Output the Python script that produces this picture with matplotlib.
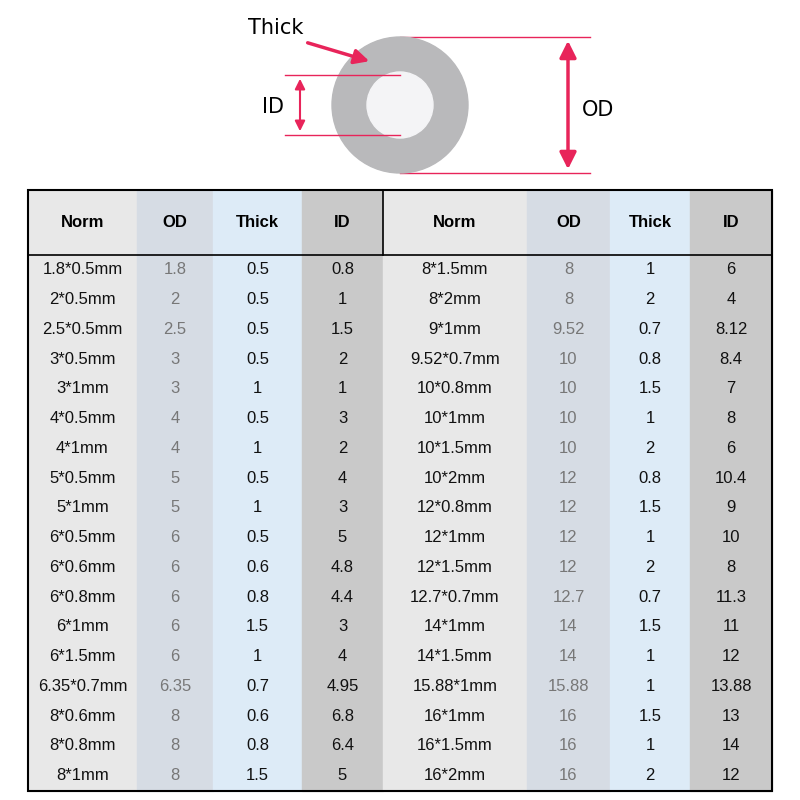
import matplotlib.pyplot as plt
from matplotlib.patches import Rectangle, Circle

# table data
norm_l = ["1.8*0.5mm", "2*0.5mm", "2.5*0.5mm", "3*0.5mm", "3*1mm", "4*0.5mm", "4*1mm",
          "5*0.5mm", "5*1mm", "6*0.5mm", "6*0.6mm", "6*0.8mm", "6*1mm", "6*1.5mm",
          "6.35*0.7mm", "8*0.6mm", "8*0.8mm", "8*1mm"]
od_l = ["1.8", "2", "2.5", "3", "3", "4", "4", "5", "5", "6", "6", "6", "6", "6",
        "6.35", "8", "8", "8"]
thick_l = ["0.5", "0.5", "0.5", "0.5", "1", "0.5", "1", "0.5", "1", "0.5", "0.6", "0.8",
           "1.5", "1", "0.7", "0.6", "0.8", "1.5"]
id_l = ["0.8", "1", "1.5", "2", "1", "3", "2", "4", "3", "5", "4.8", "4.4", "3", "4",
        "4.95", "6.8", "6.4", "5"]

norm_r = ["8*1.5mm", "8*2mm", "9*1mm", "9.52*0.7mm", "10*0.8mm", "10*1mm", "10*1.5mm",
          "10*2mm", "12*0.8mm", "12*1mm", "12*1.5mm", "12.7*0.7mm", "14*1mm", "14*1.5mm",
          "15.88*1mm", "16*1mm", "16*1.5mm", "16*2mm"]
od_r = ["8", "8", "9.52", "10", "10", "10", "10", "12", "12", "12", "12", "12.7", "14",
        "14", "15.88", "16", "16", "16"]
thick_r = ["1", "2", "0.7", "0.8", "1.5", "1", "2", "0.8", "1.5", "1", "2", "0.7", "1.5",
           "1", "1", "1.5", "1", "2"]
id_r = ["6", "4", "8.12", "8.4", "7", "8", "6", "10.4", "9", "10", "8", "11.3", "11",
        "12", "13.88", "13", "14", "12"]

headers = ["Norm", "OD", "Thick", "ID"]
col_colors = ["#e8e8e8", "#d6dce4", "#ddebf7", "#c9c9c9"]
text_colors = ["#111111", "#777777", "#111111", "#111111"]
pink = "#e8245a"

fig = plt.figure(figsize=(8, 8), dpi=100)
ax = fig.add_axes([0, 0, 1, 1])
ax.set_xlim(0, 800)
ax.set_ylim(800, 0)
ax.axis("off")

# washer diagram
ax.add_patch(Circle((400, 105), 68, color="#b9b9bb", zorder=2))
ax.add_patch(Circle((400, 105), 33, color="#f4f4f6", zorder=3))
for y in (37, 173):
    ax.plot([400, 590], [y, y], color=pink, lw=1, zorder=1)
for y in (75, 135):
    ax.plot([285, 400], [y, y], color=pink, lw=1, zorder=4)
ax.annotate("", xy=(568, 38), xytext=(568, 172),
            arrowprops=dict(arrowstyle="<|-|>", color=pink, lw=2.5, mutation_scale=25))
ax.annotate("", xy=(300, 76), xytext=(300, 134),
            arrowprops=dict(arrowstyle="<|-|>", color=pink, lw=1.5, mutation_scale=15))
ax.annotate("", xy=(372, 62), xytext=(305, 42),
            arrowprops=dict(arrowstyle="-|>", color=pink, lw=2.5, mutation_scale=22))
ax.text(276, 28, "Thick", fontsize=15, ha="center", va="center")
ax.text(273, 107, "ID", fontsize=15, ha="center", va="center")
ax.text(598, 110, "OD", fontsize=15, ha="center", va="center")

# table
top, head_h, row_h = 190, 65, 29.75
lefts_l = [28, 137, 213, 302, 383]
lefts_r = [383, 527, 610, 690, 772]
body_h = row_h * len(norm_l)

def draw_half(edges, cols):
    for j in range(4):
        x0, x1 = edges[j], edges[j + 1]
        ax.add_patch(Rectangle((x0, top), x1 - x0, head_h + body_h,
                               color=col_colors[j], zorder=0))
        ax.text((x0 + x1) / 2, top + head_h / 2, headers[j], fontsize=12,
                fontweight="bold", ha="center", va="center", family="Liberation Sans")
        for i, val in enumerate(cols[j]):
            ax.text((x0 + x1) / 2, top + head_h + row_h * (i + 0.5), val,
                    fontsize=12, ha="center", va="center", color=text_colors[j],
                    family="Liberation Sans")

draw_half(lefts_l, [norm_l, od_l, thick_l, id_l])
draw_half(lefts_r, [norm_r, od_r, thick_r, id_r])

ax.add_patch(Rectangle((28, top), 744, head_h + body_h, fill=False,
                       edgecolor="black", lw=1.5, zorder=5))
ax.plot([28, 772], [top + head_h, top + head_h], color="black", lw=1.2, zorder=5)
ax.plot([383, 383], [top, top + head_h], color="black", lw=1.2, zorder=5)

fig.savefig("out.png", dpi=100)
